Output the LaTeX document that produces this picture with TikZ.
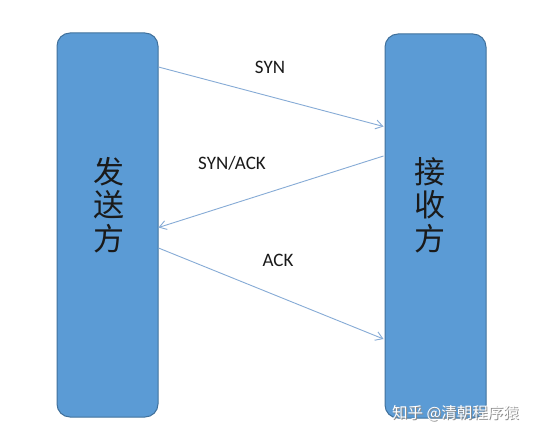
\documentclass[tikz,border=0pt]{standalone}
\usepackage{fontspec}
\setmainfont{Carlito}
\newfontfamily\cjk{Noto Sans CJK SC}
\usetikzlibrary{arrows.meta}
\definecolor{boxfill}{HTML}{5B9BD5}
\definecolor{boxline}{HTML}{41719C}
\definecolor{arrowc}{HTML}{86ABD6}
\definecolor{txt}{HTML}{1A1A1A}
\tikzset{
  party/.style={draw=boxline, line width=1pt, fill=boxfill, rounded corners=13pt,
    minimum width=101pt, minimum height=384pt, inner sep=0pt},
  msg/.style={draw=arrowc, line width=0.9pt, -{Straight Barb[length=7pt,width=9pt,line width=0.9pt]}},
  lbl/.style={font=\fontsize{19}{22}\selectfont, text=txt, inner sep=0pt},
  vtext/.style={font=\cjk\fontsize{31}{33.5}\selectfont, text=txt, align=center, inner sep=0pt},
  wm/.style={font=\cjk\fontsize{15.5}{18}\selectfont, inner sep=0pt, anchor=west}
}
\begin{document}
\begin{tikzpicture}[x=1pt,y=-1pt]
\useasboundingbox (0,0) rectangle (540,438);
\fill[white] (0,0) rectangle (540,438);
\node[party] (snd) at (107.5,225) {};
\node[party] (rcv) at (435.5,226) {};
\node[vtext] (sndt) at (109,205) {发\\送\\方};
\node[vtext] (rcvt) at (430,205) {接\\收\\方};
\coordinate (s1) at (158.5,67);
\coordinate (r1) at (383.5,126.5);
\coordinate (r2) at (383.5,156);
\coordinate (s2) at (158.5,227.5);
\coordinate (s3) at (158.5,248);
\coordinate (r3) at (383.5,339);
\draw[msg] (s1) -- (r1);
\draw[msg] (r2) -- (s2);
\draw[msg] (s3) -- (r3);
\node[lbl] (l1) at (270,67) {SYN};
\node[lbl] (l2) at (232,163) {SYN/ACK};
\node[lbl] (l3) at (278,260) {ACK};
\node[wm, text=black!45] (wms) at (393,414) {知乎 @清朝程序猿};
\node[wm, text=white] (wm) at (392,413) {知乎 @清朝程序猿};
\end{tikzpicture}
\end{document}
